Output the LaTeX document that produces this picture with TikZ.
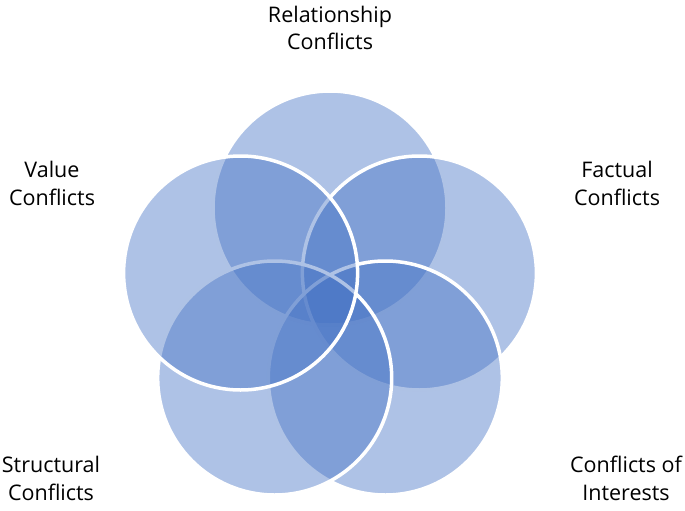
\documentclass[tikz,border=0pt]{standalone}
\usepackage{fontspec}
\setmainfont{Open Sans}
\definecolor{vennblue}{HTML}{4472C4}
\begin{document}
\begin{tikzpicture}[x=1pt,y=-1pt,
  venn/.style={circle, minimum size=234pt, inner sep=0pt, outer sep=0pt,
    fill=vennblue, fill opacity=0.43, draw=white, line width=3.5pt},
  lbl/.style={align=center, font=\fontsize{21.5}{28}\selectfont, text=black,
    inner sep=0pt, anchor=base}]
\useasboundingbox (0,0) rectangle (685,511);
\node[venn] (rel) at (330,208) {};
\node[venn] (fac) at (419.4,273) {};
\node[venn] (int) at (385.3,378) {};
\node[venn] (str) at (274.7,378) {};
\node[venn] (val) at (240.6,273) {};
\node[lbl] (trel) at (330,50) {Relationship\\Conflicts};
\node[lbl] (tval) at (52,205) {Value\\Conflicts};
\node[lbl] (tfac) at (617,205) {Factual\\Conflicts};
\node[lbl] (tstr) at (51,500) {Structural\\Conflicts};
\node[lbl] (tint) at (626,500) {Conflicts of\\Interests};
\end{tikzpicture}
\end{document}
